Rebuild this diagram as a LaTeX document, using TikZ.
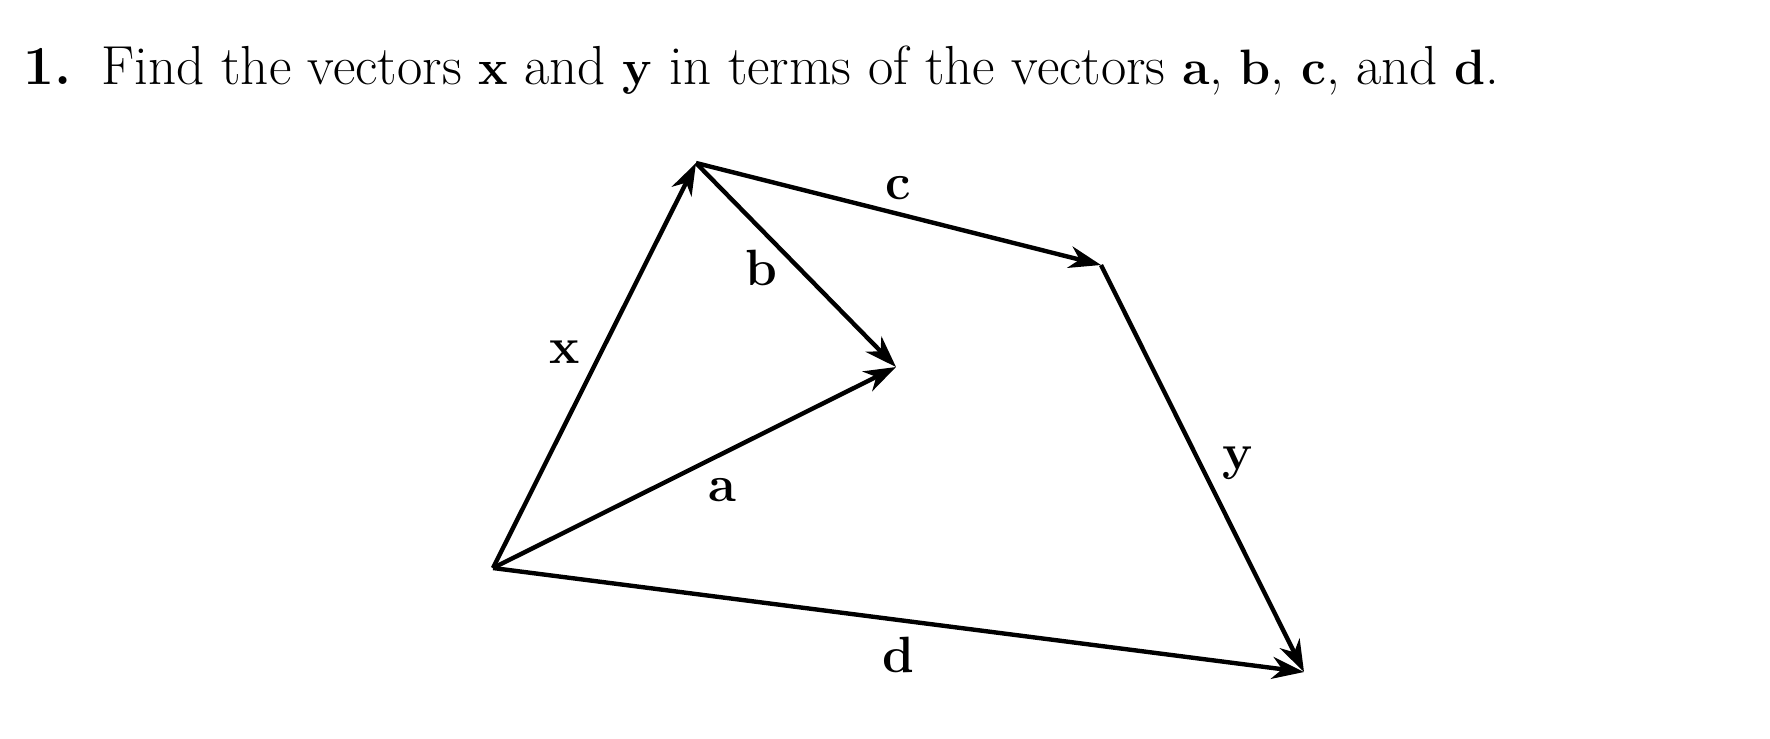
\documentclass[tikz,border=0pt]{standalone}
\usetikzlibrary{arrows.meta}
\usetikzlibrary{positioning}

\tikzset{
  vec/.style={line width=2.2pt,-{Stealth[length=16pt,width=11pt,inset=5pt]}},
  lbl/.style={font=\fontsize{25.5}{30}\selectfont\bfseries,inner sep=0pt}
}

\begin{document}
\begin{tikzpicture}[x=0.5pt,y=-0.5pt]
      \useasboundingbox (0,0) rectangle (1770,738);
      \node[anchor=base west,inner sep=0pt,font=\fontsize{27.5}{32}\selectfont] (title) at (23,85)
        {\textbf{1.}\hspace{0.55em}Find the vectors $\mathbf{x}$ and $\mathbf{y}$ in terms of the vectors $\mathbf{a}$, $\mathbf{b}$, $\mathbf{c}$, and $\mathbf{d}$.};
      \coordinate (o) at (493,568);
      \coordinate (p) at (696,163);
      \coordinate (m) at (896,367);
      \coordinate (c) at (1101,265);
      \coordinate (e) at (1304,672);
      \draw[vec] (o) -- (p);
      \draw[vec] (o) -- (m);
      \draw[vec] (p) -- (m);
      \draw[vec] (p) -- (c);
      \draw[vec] (c) -- (e);
      \draw[vec] (o) -- (e);
      \node[lbl] (lx) at (565,352) {x};
      \node[lbl] (la) at (722,490) {a};
      \node[lbl] (lb) at (761,268) {b};
      \node[lbl] (lc) at (898,188) {c};
      \node[lbl] (ly) at (1238,463) {y};
      \node[lbl] (ld) at (898,655) {d};
\end{tikzpicture}
\end{document}
